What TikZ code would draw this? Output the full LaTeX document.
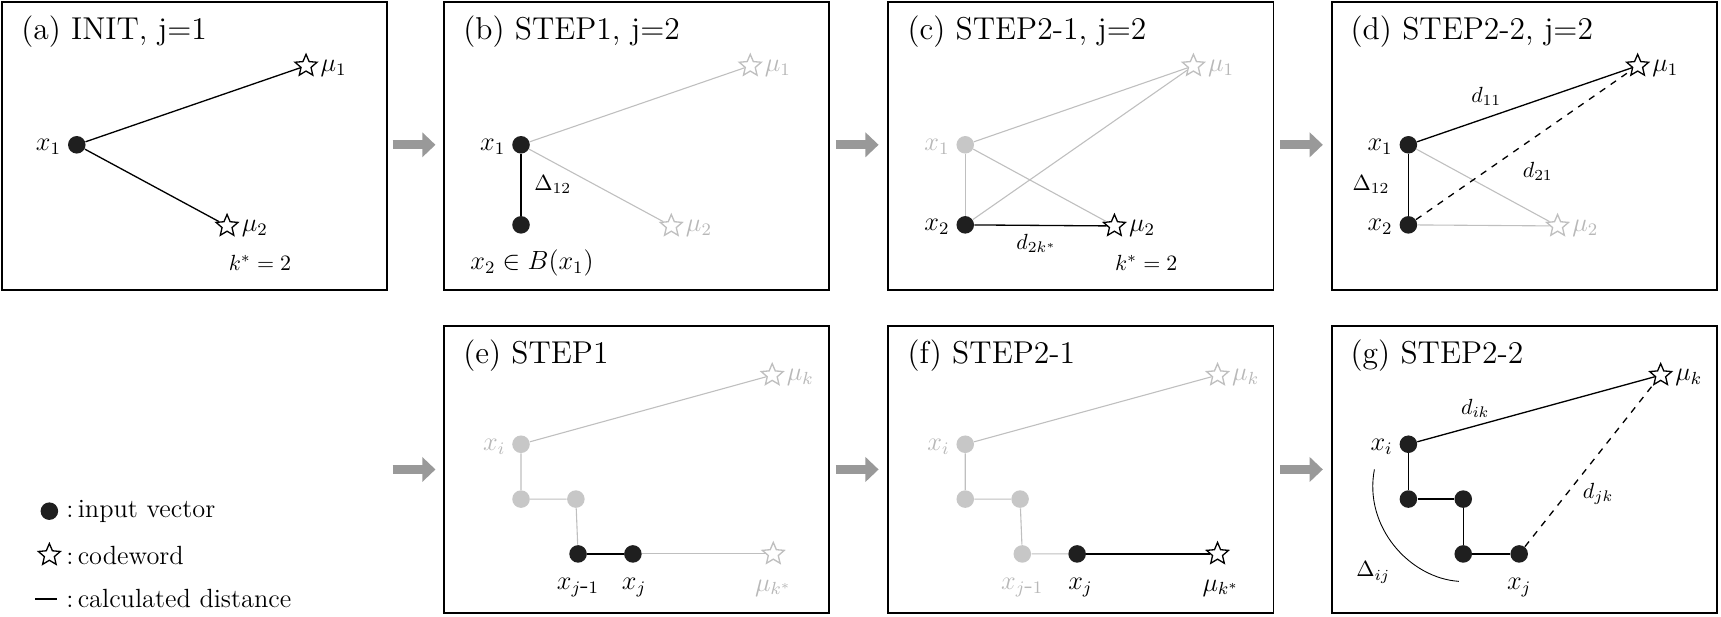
\documentclass[tikz,border=0pt]{standalone}
\usetikzlibrary{shapes.geometric,arrows.meta}
\begin{document}
\begin{tikzpicture}[x=0.5pt,y=-0.5pt,
 panel/.style={draw,line width=0.9pt},
 dot/.style={circle,fill=black!88,inner sep=0pt,minimum size=8pt},
 gdot/.style={circle,fill=black!22,inner sep=0pt,minimum size=8pt},
 st/.style={star,star points=5,star point ratio=2.2,draw,fill=white,inner sep=0pt,minimum size=10.5pt,line width=0.6pt},
 gst/.style={st,draw=black!25},
 bl/.style={line width=0.6pt},
 gl/.style={line width=0.5pt,black!25},
 ttl/.style={anchor=north west,font=\Large,inner sep=0pt},
 lab/.style={font=\large,inner sep=1pt},
 glab/.style={lab,black!28},
 bigarrow/.style={-{Triangle[length=6pt,width=11pt]},line width=4pt,black!40}]
\useasboundingbox (0,0) rectangle (1569,562.5);
% panels
\foreach \x/\y/\t/\n in {2/2/(a) INIT{,} j=1/A,405/2/(b) STEP1{,} j=2/B,810/2/(c) STEP2-1{,} j=2/C,1214/2/(d) STEP2-2{,} j=2/D,405/297/(e) STEP1/E,810/297/(f) STEP2-1/F,1214/297/(g) STEP2-2/G}{
  \draw[panel] (\x,\y) rectangle ++(351,262);
  \node[ttl] (t\n) at (\x+17,\y+12) {\t};
}
% arrows
\coordinate (r1a) at (358,132); \coordinate (r1b) at (397,132);
\coordinate (r2a) at (762,132); \coordinate (r2b) at (801,132);
\coordinate (r3a) at (1167,132); \coordinate (r3b) at (1206,132);
\coordinate (r4a) at (358,428); \coordinate (r4b) at (397,428);
\coordinate (r5a) at (762,428); \coordinate (r5b) at (801,428);
\coordinate (r6a) at (1167,428); \coordinate (r6b) at (1206,428);
\foreach \i in {1,...,6} \draw[bigarrow] (r\i a) -- (r\i b);
% (a)
\node[dot] (ax1) at (70,132) {};
\node[st] (am1) at (279,60) {};
\node[st] (am2) at (207,206) {};
\draw[bl] (ax1) -- (am1); \draw[bl] (ax1) -- (am2);
\node[lab,anchor=east] at (58,134) {$x_1$};
\node[lab,anchor=west] at (290,62) {$\mu_1$};
\node[lab,anchor=west] at (218,208) {$\mu_2$};
\node[lab,font=\normalsize] at (237,240) {$k^*=2$};
% (b)
\node[dot] (bx1) at (475,132) {};
\node[dot] (bx2) at (475,205) {};
\node[gst] (bm1) at (684,60) {};
\node[gst] (bm2) at (612,206) {};
\draw[gl] (bx1) -- (bm1); \draw[gl] (bx1) -- (bm2);
\draw[bl] (bx1) -- (bx2);
\node[lab,anchor=east] at (463,134) {$x_1$};
\node[glab,anchor=west] at (695,62) {$\mu_1$};
\node[glab,anchor=west] at (623,208) {$\mu_2$};
\node[lab,font=\normalsize] at (504,168) {$\Delta_{12}$};
\node[lab] at (485,240) {$x_2\in B(x_1)$};
% (c)
\node[gdot] (cx1) at (880,132) {};
\node[dot] (cx2) at (880,205) {};
\node[gst] (cm1) at (1088,60) {};
\node[st] (cm2) at (1016,206) {};
\draw[gl] (cx1) -- (cm1); \draw[gl] (cx1) -- (cm2); \draw[gl] (cx1) -- (cx2); \draw[gl] (cx2) -- (cm1);
\draw[bl] (cx2) -- (cm2);
\node[glab,anchor=east] at (868,134) {$x_1$};
\node[lab,anchor=east] at (868,207) {$x_2$};
\node[glab,anchor=west] at (1099,62) {$\mu_1$};
\node[lab,anchor=west] at (1027,208) {$\mu_2$};
\node[lab,font=\normalsize] at (945,222) {$d_{2k^*}$};
\node[lab,font=\normalsize] at (1045,240) {$k^*=2$};
% (d)
\node[dot] (dx1) at (1284,132) {};
\node[dot] (dx2) at (1284,205) {};
\node[st] (dm1) at (1493,60) {};
\node[gst] (dm2) at (1420,206) {};
\draw[gl] (dx1) -- (dm2); \draw[gl] (dx2) -- (dm2);
\draw[bl] (dx1) -- (dm1); \draw[bl,dashed] (dx2) -- (dm1); \draw[bl] (dx1) -- (dx2);
\node[lab,anchor=east] at (1272,134) {$x_1$};
\node[lab,anchor=east] at (1272,207) {$x_2$};
\node[lab,anchor=west] at (1504,62) {$\mu_1$};
\node[glab,anchor=west] at (1431,208) {$\mu_2$};
\node[lab,font=\normalsize] at (1355,88) {$d_{11}$};
\node[lab,font=\normalsize] at (1402,156) {$d_{21}$};
\node[lab,font=\normalsize] at (1250,168) {$\Delta_{12}$};
% legend
\node[dot] (l1) at (45,466) {};
\node[st] (l2) at (45,506) {};
\coordinate (l3a) at (32,546); \coordinate (l3b) at (52,546);
\draw[bl] (l3a) -- (l3b);
\node[lab,anchor=west] at (58,466) {:\,input vector};
\node[lab,anchor=west] at (58,506) {:\,codeword};
\node[lab,anchor=west] at (58,546) {:\,calculated distance};
% (e)
\node[gdot] (exi) at (475,405) {};
\node[gdot] (ep2) at (475,455) {};
\node[gdot] (ep3) at (525,455) {};
\node[dot] (ej1) at (527,505) {};
\node[dot] (ej) at (577,505) {};
\node[gst] (emk) at (704,342) {};
\node[gst] (ems) at (705,505) {};
\draw[gl] (exi) -- (emk); \draw[gl] (exi) -- (ep2) -- (ep3) -- (ej1); \draw[gl] (ej) -- (ems);
\draw[bl] (ej1) -- (ej);
\node[glab,anchor=east] at (463,407) {$x_i$};
\node[glab,anchor=west] at (715,344) {$\mu_k$};
\node[lab] at (527,536) {$x_{j\mbox{-}1}$};
\node[lab] at (578,536) {$x_j$};
\node[glab] at (705,536) {$\mu_{k^*}$};
% (f)
\node[gdot] (fxi) at (880,405) {};
\node[gdot] (fp2) at (880,455) {};
\node[gdot] (fp3) at (930,455) {};
\node[gdot] (fj1) at (932,505) {};
\node[dot] (fj) at (982,505) {};
\node[gst] (fmk) at (1110,342) {};
\node[st] (fms) at (1110,505) {};
\draw[gl] (fxi) -- (fmk); \draw[gl] (fxi) -- (fp2) -- (fp3) -- (fj1) -- (fj);
\draw[bl] (fj) -- (fms);
\node[glab,anchor=east] at (868,407) {$x_i$};
\node[glab,anchor=west] at (1121,344) {$\mu_k$};
\node[glab] at (932,536) {$x_{j\mbox{-}1}$};
\node[lab] at (985,536) {$x_j$};
\node[lab] at (1113,536) {$\mu_{k^*}$};
% (g)
\node[dot] (gxi) at (1284,405) {};
\node[dot] (gp2) at (1284,455) {};
\node[dot] (gp3) at (1334,455) {};
\node[dot] (gp4) at (1334,505) {};
\node[dot] (gj) at (1385,505) {};
\node[st] (gmk) at (1514,342) {};
\draw[bl] (gxi) -- (gmk); \draw[bl] (gxi) -- (gp2) -- (gp3) -- (gp4) -- (gj);
\draw[bl,dashed] (gj) -- (gmk);
\node[lab,anchor=east] at (1272,407) {$x_i$};
\node[lab,anchor=west] at (1525,344) {$\mu_k$};
\node[lab] at (1385,536) {$x_j$};
\node[lab,font=\normalsize] at (1345,372) {$d_{ik}$};
\node[lab,font=\normalsize] at (1457,450) {$d_{jk}$};
\coordinate (arcA) at (1253,428); \coordinate (arcB) at (1330,530);
\draw[line width=0.4pt] (arcA) .. controls (1243,480) and (1285,527) .. (arcB);
\node[lab,font=\normalsize] at (1252,522) {$\Delta_{ij}$};
\end{tikzpicture}
\end{document}
